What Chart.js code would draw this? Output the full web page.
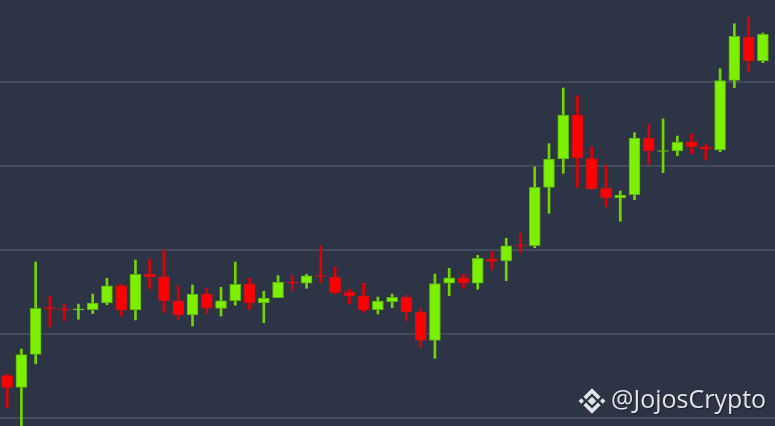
<!DOCTYPE html>
<html>
<head>
<meta charset="utf-8">
<script src="https://cdn.jsdelivr.net/npm/chart.js@4.4.0/dist/chart.umd.min.js"></script>
<style>
  html, body { margin: 0; padding: 0; background: #2d3446; }
  #wrap { position: relative; width: 775px; height: 426px; overflow: hidden; }
  #logo { position: absolute; left: 577px; top: 386px; width: 30px; height: 30px; }
  #handle { position: absolute; left: 611px; top: 386px; line-height: 25px;
            font-family: "Open Sans", sans-serif; font-size: 25px; color: #e2e3e6; white-space: nowrap;
            text-shadow: 1px 1px 1px rgba(0, 0, 0, 0.45); }
</style>
</head>
<body>
<div id="wrap">
  <canvas id="chart" width="775" height="426"></canvas>
  <svg id="logo" viewBox="0 0 28 28">
    <g fill="#e2e3e6">
      <polygon points="14,10 18,14 14,18 10,14"/>
      <polygon points="4,11.5 6.5,14 4,16.5 1.5,14"/>
      <polygon points="24,11.5 26.5,14 24,16.5 21.5,14"/>
      <polygon points="14,2 22,10 19.5,12.5 14,7 8.5,12.5 6,10"/>
      <polygon points="14,26 22,18 19.5,15.5 14,21 8.5,15.5 6,18"/>
    </g>
  </svg>
  <div id="handle">@JojosCrypto</div>
</div>
<script>
// OHLC (one candle per period, 54 periods)
const opens  = [30504,30365,30758,31315,31301,31286,31289,31369,31575,31286,31711,31682,31396,31226,31476,31306,31396,31592,
                31369,31432,31619,31604,31696,31679,31500,31452,31289,31385,31437,31258,30925,31604,31670,31604,31893,31869,
                32060,32051,32746,33083,33607,33087,32735,32619,32658,33333,33173,33179,33286,33226,33190,34020,34536,34250];
const highs  = [30524,30821,31857,31452,31357,31357,31476,31663,31595,31881,31893,32000,31575,31583,31544,31556,31857,31663,
                31508,31694,31702,31711,32048,31798,31532,31604,31440,31476,31464,31306,31714,31782,31714,31937,31980,32139,
                32199,32988,33265,33929,33837,33226,33012,32702,33396,33496,33560,33357,33381,33254,34158,34694,34770,34583];
const lows   = [30123,29881,30646,31087,31158,31175,31242,31349,31214,31167,31536,31258,31175,31095,31246,31214,31342,31294,
                31135,31432,31512,31544,31611,31476,31357,31258,31238,31313,31158,30837,30711,31456,31544,31532,31770,31635,
                31968,32027,32437,32913,32746,32722,32515,32342,32599,33015,32920,33125,33146,33071,33170,33932,34119,34230];
const closes = [30365,30754,31306,31298,31286,31300,31369,31575,31286,31711,31682,31396,31226,31476,31310,31396,31592,31369,
                31429,31619,31605,31694,31685,31496,31456,31286,31393,31437,31265,30925,31599,31670,31607,31901,31863,32051,
                32048,32746,33083,33607,33099,32730,32623,32655,33333,33179,33185,33286,33230,33199,34016,34544,34250,34568];
const gridLevels = [30000, 31000, 32000, 33000, 34000];

const up = closes.map((c, i) => c >= opens[i]);

new Chart(document.getElementById('chart'), {
    type: 'bar',
    data: {
        datasets: [{
            // bodies
            data: opens.map((o, i) => ({ x: i, y: [o, closes[i]] })),
            backgroundColor: up.map(u => u ? '#7cf000' : '#ff0000'),
            borderColor: up.map(u => u ? '#5fae10' : '#c41414'),
            borderWidth: 1,
            borderSkipped: false,
            barThickness: 11,
            grouped: false
        }, {
            // wicks
            data: lows.map((l, i) => ({ x: i, y: [l, highs[i]] })),
            backgroundColor: up.map(u => u ? '#72d600' : '#e00000'),
            borderWidth: 0,
            barThickness: 2,
            grouped: false
        }]
    },
    options: {
        responsive: false,
        animation: false,
        layout: { padding: 0 },
        plugins: { legend: { display: false }, tooltip: { enabled: false } },
        scales: {
            x: {
                type: 'linear',
                min: -0.5,
                max: 53.85,
                offset: false,
                display: false
            },
            y: {
                min: 29905,
                max: 34976,
                afterBuildTicks: scale => { scale.ticks = gridLevels.map(v => ({ value: v })); },
                ticks: { display: false },
                border: { display: false },
                grid: { color: '#424a5c', lineWidth: 2, drawTicks: false }
            }
        }
    }
});
</script>
</body>
</html>
